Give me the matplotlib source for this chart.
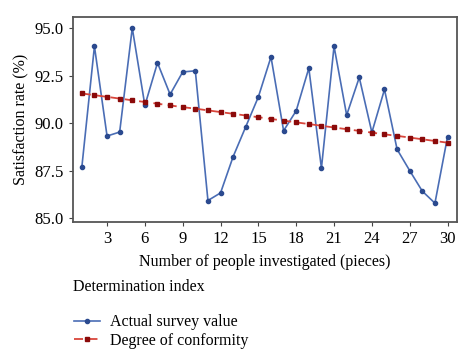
import matplotlib
matplotlib.use("Agg")
import matplotlib.pyplot as plt

plt.rcParams['font.family'] = ['Liberation Serif', 'DejaVu Serif']

# data
people = list(range(1, 31))
actual = [87.68, 94.04, 89.32, 89.53, 95.0, 90.93, 93.17, 91.51, 92.69, 92.75,
          85.93, 86.33, 88.24, 89.81, 91.38, 93.48, 89.60, 90.65, 92.89, 87.63,
          94.04, 90.42, 92.40, 89.51, 91.77, 88.62, 87.50, 86.42, 85.79, 89.28]
conformity = [91.56, 91.47, 91.38, 91.29, 91.20, 91.11, 91.02, 90.93, 90.84, 90.76,
              90.67, 90.58, 90.49, 90.40, 90.31, 90.22, 90.13, 90.04, 89.95, 89.86,
              89.77, 89.68, 89.59, 89.50, 89.41, 89.33, 89.24, 89.15, 89.06, 88.97]
xticks = [3, 6, 9, 12, 15, 18, 21, 24, 27, 30]
yticks = [85.0, 87.5, 90.0, 92.5, 95.0]

fig = plt.figure(figsize=(4.74, 3.64), dpi=100)
ax = fig.add_axes([73 / 474, 1 - 222 / 364, 384 / 474, 205 / 364])

ax.plot(people, actual, color='#4a6db5', lw=1.2, marker='o', ms=3,
        mfc='#2b4a8f', mec='#2b4a8f', label='Actual survey value')
ax.plot(people, conformity, color='#d9463c', lw=1.3, ls=(0, (5, 3)), marker='s', ms=3.5,
        mfc='#8b0a0a', mec='#8b0a0a', label='Degree of conformity')

ax.set_xlim(0.3, 30.75)
ax.set_ylim(84.8, 95.58)
ax.set_xticks(xticks)
ax.set_yticks(yticks)
ax.set_yticklabels([f'{v:.1f}' for v in yticks])
ax.tick_params(labelsize=12, length=3, color='#444444')
for s in ax.spines.values():
    s.set_color('#555555')
    s.set_linewidth(1.3)

ax.set_xlabel('Number of people investigated (pieces)', fontsize=11.5, labelpad=5)
ax.set_ylabel('Satisfaction rate (%)', fontsize=11.5)

fig.text(73 / 474, 1 - 287 / 364, 'Determination index', fontsize=11.5, va='center', ha='left')
handles, labels = ax.get_legend_handles_labels()
fig.legend(handles, labels, loc='upper left', bbox_to_anchor=(68 / 474, 1 - 308 / 364),
           frameon=False, fontsize=11.5, handlelength=1.6, handletextpad=0.6,
           labelspacing=0.15, borderaxespad=0)

fig.savefig('out.png', dpi=100)
